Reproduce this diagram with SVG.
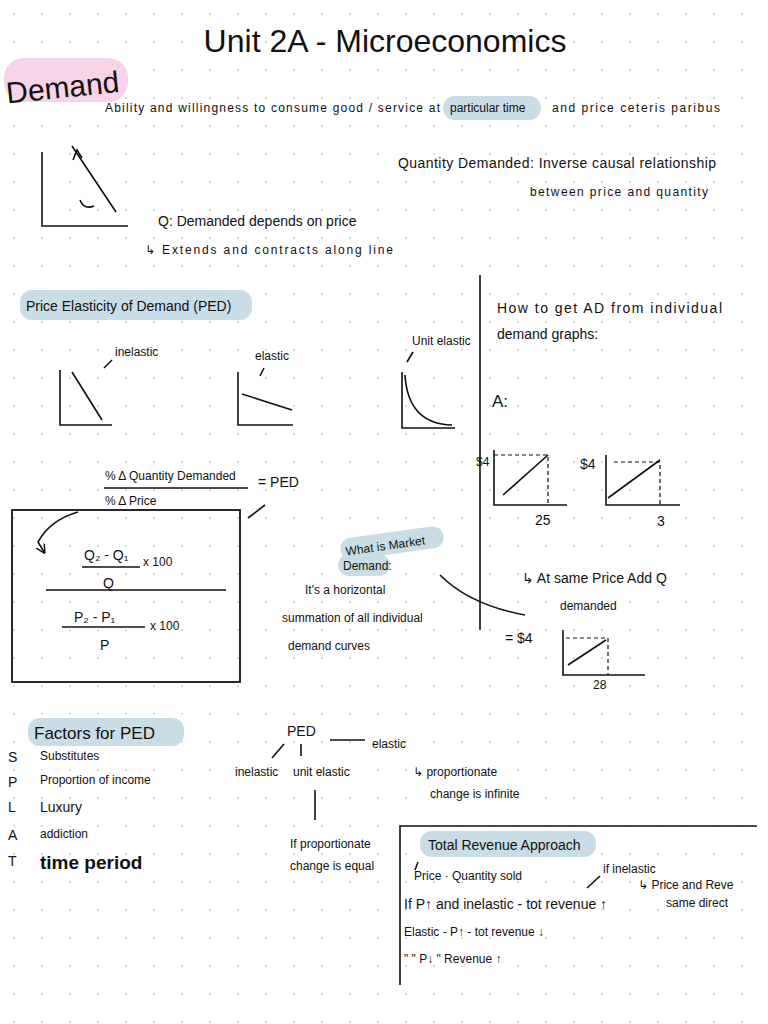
<svg xmlns="http://www.w3.org/2000/svg" width="768" height="1024" viewBox="0 0 768 1024">
<defs>
<pattern id="dots" width="28" height="28" patternUnits="userSpaceOnUse"><circle cx="14" cy="14" r="0.9" fill="#cfcfcf"/></pattern>
<marker id="ah" viewBox="0 0 10 10" refX="8" refY="5" markerWidth="6" markerHeight="6" orient="auto"><path d="M0,0L10,5L0,10" fill="none" stroke="#111" stroke-width="1.5"/></marker>
</defs>
<style>
text{font-family:"Liberation Sans","DejaVu Sans",sans-serif;fill:#111}
.s{font-size:12px}.m{font-size:14px}.l{font-size:17px}
.ln{stroke:#111;stroke-width:1.6;fill:none}
.ds{stroke:#111;stroke-width:1.2;fill:none;stroke-dasharray:4 3}
.hb{fill:#c9dde6}
</style>
<rect width="768" height="1024" fill="#fff"/>
<rect width="768" height="1024" fill="url(#dots)"/>
<text x="385" y="52" font-size="32" text-anchor="middle">Unit 2A - Microeconomics</text>
<rect x="4" y="58" width="124" height="44" rx="20" fill="#f6d3e6"/>
<text x="6" y="98" font-size="30" transform="rotate(-6 60 88)">Demand</text>
<g id="definition">
<rect class="hb" x="443" y="96" width="98" height="24" rx="12"/>
<text class="s" x="105" y="112" textLength="335">Ability and willingness to consume good / service at</text>
<text class="s" x="450" y="112">particular time</text>
<text class="s" x="552" y="112" textLength="168">and price   ceteris paribus</text>
</g>
<g id="demand-graph">
<path class="ln" d="M42,152V226H128"/><path class="ln" d="M72,146L116,212"/>
<path class="ln" d="M73,160L77,150L82,158" stroke-width="1"/><path class="ln" d="M80,200Q84,210 94,206" stroke-width="1"/>
</g>
<text class="m" x="398" y="168" textLength="318">Quantity Demanded: Inverse causal relationship</text>
<text class="s" x="530" y="196" textLength="178">between price and quantity</text>
<text class="m" x="158" y="226">Q: Demanded depends on price</text>
<text class="s" x="145" y="254" textLength="248">↳ Extends and contracts along line</text>
<g id="ped-title"><rect class="hb" x="20" y="290" width="232" height="30" rx="12"/>
<text class="m" x="26" y="311">Price Elasticity of Demand (PED)</text></g>
<path class="ln" d="M480,275V630"/>
<text class="m" x="497" y="313" textLength="225">How to get AD from individual</text>
<text class="m" x="497" y="339">demand graphs:</text>
<g id="inelastic"><path class="ln" d="M60,370V425H112"/><path class="ln" d="M72,372L102,420"/><path class="ln" d="M104,368L112,360"/><text class="s" x="115" y="356">inelastic</text></g>
<g id="elastic"><path class="ln" d="M238,372V425H293"/><path class="ln" d="M242,394L292,410"/><path class="ln" d="M260,376L264,368"/><text class="s" x="255" y="360">elastic</text></g>
<g id="unitelastic"><path class="ln" d="M402,372V428H455"/><path class="ln" d="M405,375Q408,424 452,425"/><path class="ln" d="M407,362L413,352"/><text class="s" x="412" y="345">Unit elastic</text></g>
<text class="l" x="492" y="407">A:</text>
<g id="graphA1"><path class="ln" d="M494,450V505H567"/><path class="ln" d="M503,495L548,455"/><path class="ds" d="M494,455H548V505"/><text class="s" x="476" y="466">$4</text><text class="m" x="535" y="525">25</text></g>
<g id="graphA2"><path class="ln" d="M606,455V505H680"/><path class="ln" d="M608,498L660,460"/><path class="ds" d="M614,462H660V505"/><text class="m" x="580" y="469">$4</text><text class="m" x="657" y="526">3</text></g>
<g id="ped-formula">
<text class="s" x="105" y="480">% Δ Quantity Demanded</text>
<path class="ln" d="M104,488H248"/>
<text class="m" x="258" y="487">= PED</text>
<text class="s" x="105" y="505">% Δ    Price</text>
<path class="ln" d="M248,518L265,505"/>
</g>
<g id="formula-box">
<rect x="12" y="510" width="228" height="172" fill="none" stroke="#111" stroke-width="1.8"/>
<path class="ln" d="M78,512Q50,520 38,542L44,552" marker-end="url(#ah)"/>
<text class="m" x="84" y="560">Q₂ - Q₁</text><path class="ln" d="M82,567H140"/><text class="s" x="143" y="566">x 100</text>
<text class="m" x="103" y="588">Q</text>
<path class="ln" d="M46,590H226"/>
<text class="m" x="74" y="622">P₂ - P₁</text><path class="ln" d="M62,627H145"/><text class="s" x="150" y="630">x 100</text>
<text class="m" x="100" y="650">P</text>
</g>
<g id="market-demand">
<rect class="hb" x="340" y="532" width="104" height="22" rx="11" transform="rotate(-8 392 543)"/>
<rect class="hb" x="338" y="554" width="52" height="22" rx="11"/>
<text class="s" x="345" y="549" transform="rotate(-8 392 543)">What is Market</text>
<text class="s" x="343" y="570">Demand:</text>
<text class="s" x="305" y="594">It's a horizontal</text>
<text class="s" x="282" y="622">summation of all individual</text>
<text class="s" x="288" y="650">demand curves</text>
<path class="ln" d="M440,575Q470,605 525,615"/>
</g>
<text class="m" x="522" y="583">↳ At same Price Add Q</text>
<text class="s" x="560" y="610">demanded</text>
<g id="graphSum"><text class="m" x="505" y="643">= $4</text><path class="ln" d="M563,630V675H645"/><path class="ln" d="M568,665L606,640"/><path class="ds" d="M566,638H608V675"/><text class="s" x="593" y="689">28</text></g>
<g id="factors">
<rect class="hb" x="28" y="718" width="156" height="28" rx="12"/>
<text class="l" x="34" y="739">Factors for PED</text>
<text class="m" x="8" y="762">S</text><text class="s" x="40" y="760">Substitutes</text>
<text class="m" x="8" y="787">P</text><text class="s" x="40" y="784">Proportion of income</text>
<text class="m" x="8" y="812">L</text><text class="m" x="40" y="812">Luxury</text>
<text class="m" x="8" y="840">A</text><text class="s" x="40" y="838">addiction</text>
<text class="m" x="8" y="866">T</text><text font-size="19" font-weight="bold" x="40" y="869">time period</text>
</g>
<g id="ped-tree">
<text class="m" x="287" y="736">PED</text>
<path class="ln" d="M330,740H365"/><text class="s" x="372" y="748">elastic</text>
<path class="ln" d="M284,744L272,758"/><path class="ln" d="M301,744V756"/>
<text class="s" x="235" y="776">inelastic</text><text class="s" x="293" y="776">unit elastic</text>
<text class="s" x="413" y="776">↳ proportionate</text><text class="s" x="430" y="798">change is infinite</text>
<path class="ln" d="M315,790V820"/>
<text class="s" x="290" y="848">If proportionate</text><text class="s" x="290" y="870">change is equal</text>
</g>
<g id="total-revenue">
<path class="ln" d="M757,826H400V985" stroke-width="2"/>
<rect class="hb" x="420" y="831" width="176" height="26" rx="12"/>
<text class="m" x="428" y="850">Total Revenue Approach</text>
<path class="ln" d="M415,870L418,862" stroke-width="1"/>
<text class="s" x="414" y="880">Price · Quantity sold</text>
<path class="ln" d="M587,888L600,876" stroke-width="1"/>
<text class="s" x="603" y="873">if inelastic</text>
<text class="s" x="638" y="889">↳ Price and Reve</text>
<text class="s" x="666" y="907">same direct</text>
<text class="m" x="404" y="909">If P↑ and inelastic - tot revenue  ↑</text>
<text class="s" x="404" y="936">Elastic - P↑ - tot revenue ↓</text>
<text class="s" x="404" y="963">"    "    P↓    "    Revenue ↑</text>
</g>
</svg>
